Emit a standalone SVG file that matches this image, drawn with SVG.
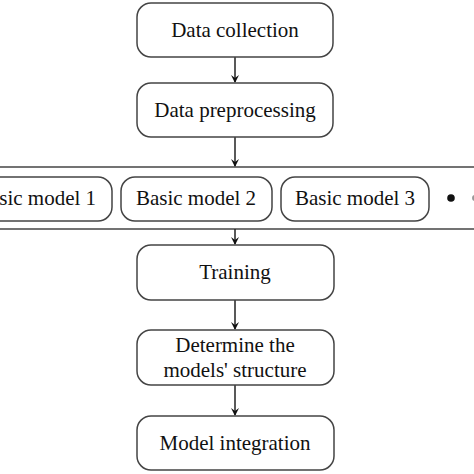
<svg xmlns="http://www.w3.org/2000/svg" width="474" height="474" viewBox="0 0 474 474">
<style>
.box{fill:#fff;stroke:#444;stroke-width:1.5}
.t{font-family:"Liberation Serif","Times New Roman",serif;font-size:21px;fill:#111;text-anchor:middle}
.c{stroke:#222;stroke-width:1.5;fill:none}
.band{stroke:#444;stroke-width:1.5}
</style>
<defs>
<marker id="ah" markerWidth="8" markerHeight="10" refX="7" refY="5" orient="auto" markerUnits="userSpaceOnUse">
<path d="M0,1 L8,5 L0,9 L3,5 Z" fill="#111"/>
</marker>
</defs>
<rect width="474" height="474" fill="#fff"/>
<line class="band" x1="0" y1="167" x2="474" y2="167"/>
<line class="band" x1="0" y1="229" x2="474" y2="229"/>
<g id="connectors">
<line class="c" x1="235" y1="57" x2="235" y2="82" marker-end="url(#ah)"/>
<line class="c" x1="235" y1="137" x2="235" y2="166" marker-end="url(#ah)"/>
<line class="c" x1="235" y1="229" x2="235" y2="244" marker-end="url(#ah)"/>
<line class="c" x1="235" y1="300" x2="235" y2="329" marker-end="url(#ah)"/>
<line class="c" x1="235" y1="385" x2="235" y2="415" marker-end="url(#ah)"/>
</g>
<g id="data-collection">
<rect class="box" x="137" y="3" width="196" height="54" rx="14"/>
<text class="t" x="235" y="37">Data collection</text>
</g>
<g id="data-preprocessing">
<rect class="box" x="137" y="83" width="196" height="54" rx="14"/>
<text class="t" x="235" y="117">Data preprocessing</text>
</g>
<g id="basic-model-1">
<rect class="box" x="-40" y="177" width="152" height="44" rx="14"/>
<text class="t" x="36" y="205">Basic model 1</text>
</g>
<g id="basic-model-2">
<rect class="box" x="121" y="177" width="151" height="44" rx="14"/>
<text class="t" x="196" y="205">Basic model 2</text>
</g>
<g id="basic-model-3">
<rect class="box" x="281" y="177" width="148" height="44" rx="14"/>
<text class="t" x="355" y="205">Basic model 3</text>
</g>
<g id="dots">
<circle cx="451" cy="198" r="3.8" fill="#111"/>
<circle cx="475" cy="198" r="3" fill="#999"/>
</g>
<g id="training">
<rect class="box" x="137" y="245" width="197" height="55" rx="14"/>
<text class="t" x="235" y="279">Training</text>
</g>
<g id="determine-structure">
<rect class="box" x="137" y="330" width="197" height="55" rx="14"/>
<text class="t" x="235" y="352">Determine the</text>
<text class="t" x="235" y="377">models' structure</text>
</g>
<g id="model-integration">
<rect class="box" x="137" y="416" width="197" height="54" rx="14"/>
<text class="t" x="235" y="450">Model integration</text>
</g>
</svg>
